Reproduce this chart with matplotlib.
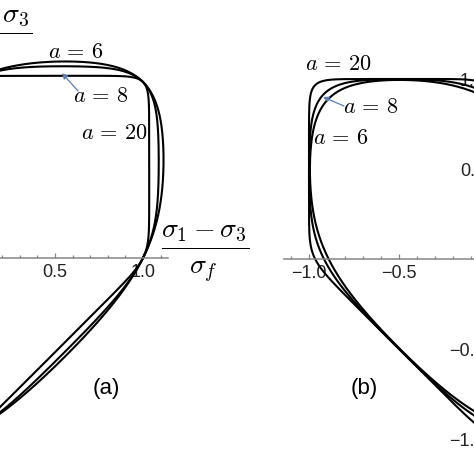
import numpy as np
import matplotlib
matplotlib.use("Agg")
import matplotlib.pyplot as plt
from matplotlib.ticker import FixedLocator, FixedFormatter

# ---------------- data ----------------
exponents = [6, 8, 20]                      # Hosford exponents a
major_ticks = [-1.0, -0.5, 0.5, 1.0]
major_labels = ["\u22121.0", "\u22120.5", "0.5", "1.0"]
minor_ticks = [-1.1, -0.9, -0.8, -0.7, -0.6, -0.4, -0.3, -0.2, -0.1,
               0.1, 0.2, 0.3, 0.4, 0.6, 0.7, 0.8, 0.9, 1.1]
panel_tags = ["(a)", "(b)"]
# label positions (data coordinates of each panel)
labels_a = [(r"$a\,=\,6$", 0.619, 1.170), (r"$a\,=\,8$", 0.761, 0.915), (r"$a\,=\,20$", 0.838, 0.710)]
labels_b = [(r"$a\,=\,20$", -0.836, 1.078), (r"$a\,=\,8$", -0.656, 0.839), (r"$a\,=\,6$", -0.822, 0.667)]
arrow_a = ((0.540, 1.050), (0.631, 0.949))   # head, tail
arrow_b = ((-0.922, 0.900), (-0.806, 0.850))

plt.rcParams["font.family"] = ["Liberation Sans", "DejaVu Sans"]
plt.rcParams["mathtext.fontset"] = "cm"

W = H = 474
fig = plt.figure(figsize=(4.74, 4.74), dpi=100)


def add_panel(ox, oy, s, lim=1.6):
    left = (ox - lim * s) / W
    bottom = (H - oy - lim * s) / H
    size = 2 * lim * s
    ax = fig.add_axes([left, bottom, size / W, size / H])
    ax.set_xlim(-lim, lim)
    ax.set_ylim(-lim, lim)
    ax.patch.set_visible(False)
    for sp in ("top", "right"):
        ax.spines[sp].set_visible(False)
    for sp in ("left", "bottom"):
        ax.spines[sp].set_position(("data", 0))
        ax.spines[sp].set_color("#858585")
        ax.spines[sp].set_linewidth(1.1)
        ax.spines[sp].set_bounds(-1.14, 1.14)
    for axis in (ax.xaxis, ax.yaxis):
        axis.set_major_locator(FixedLocator(major_ticks))
        axis.set_major_formatter(FixedFormatter(major_labels))
        axis.set_minor_locator(FixedLocator(minor_ticks))
    ax.tick_params(which="both", direction="in", color="#858585", width=0.9,
                   labelcolor="#222222", labelsize=13)
    ax.tick_params(which="major", length=3.5)
    ax.tick_params(which="minor", length=2.0)
    ax.tick_params(axis="x", pad=4.5)
    ax.tick_params(axis="y", pad=3)
    return ax


ax_a = add_panel(-33, 258, 176)
ax_b = add_panel(489, 259, 180)

th = np.linspace(0, 2 * np.pi, 6001)
c, s = np.cos(th), np.sin(th)
for a in exponents:
    # (a): |x|^a + |y|^a + |x-y|^a = 2
    r = (2.0 / (np.abs(c) ** a + np.abs(s) ** a + np.abs(c - s) ** a)) ** (1.0 / a)
    ax_a.plot(r * c, r * s, color="black", lw=1.5, solid_joinstyle="round")
    # (b): |x|^a + |y|^a + |x+y|^a = 1
    r = (1.0 / (np.abs(c) ** a + np.abs(s) ** a + np.abs(c + s) ** a)) ** (1.0 / a)
    ax_b.plot(r * c, r * s, color="black", lw=1.5, solid_joinstyle="round")

for ax, labs, arr in ((ax_a, labels_a, arrow_a), (ax_b, labels_b, arrow_b)):
    for txt, x, y in labs:
        ax.text(x, y, txt, fontsize=16, ha="center", va="center")
    ax.annotate("", xy=arr[0], xytext=arr[1],
                arrowprops=dict(arrowstyle="-|>", color="#5b7db8", lw=0.9,
                                mutation_scale=8, shrinkA=0, shrinkB=0))

# axis labels of panel (a): numerator + fraction bar, then denominator
ax_a.text(1.352, 0.000, r"$\dfrac{\sigma_1-\sigma_3}{\ }$", fontsize=20,
          ha="center", va="bottom")
ax_a.text(1.341, -0.091, r"$\sigma_f$", fontsize=20, ha="center", va="baseline")
ax_a.text(0.122, 1.222, r"$\dfrac{\sigma_2-\sigma_3}{\ }$", fontsize=20,
          ha="center", va="bottom")
ax_a.text(0.095, 1.131, r"$\sigma_f$", fontsize=20, ha="center", va="baseline")

ax_a.text(0.79, -0.744, panel_tags[0], fontsize=16, ha="center", va="center")
ax_b.text(-0.694, -0.722, panel_tags[1], fontsize=16, ha="center", va="center")

fig.savefig("out.png", dpi=100)
